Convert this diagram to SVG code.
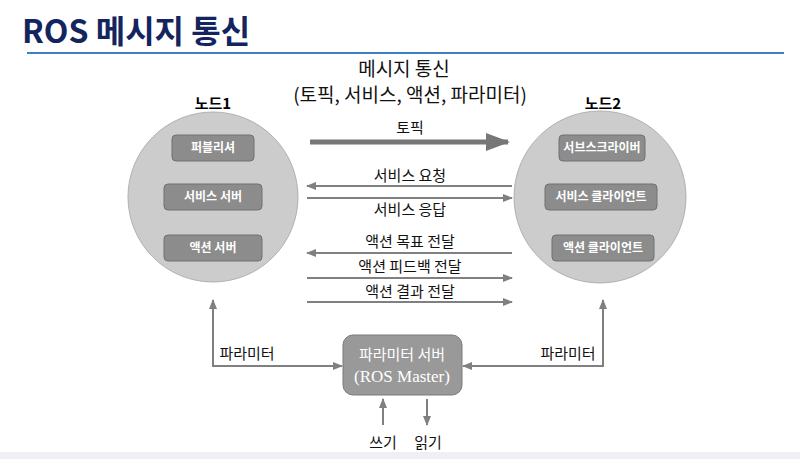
<svg xmlns="http://www.w3.org/2000/svg" width="800" height="459" viewBox="0 0 800 459">
<defs>
<style>
.k{font-family:"Noto Sans CJK KR","Noto Sans",sans-serif}
.ib{fill:#8c8c8c;stroke:#707070;stroke-width:1}
.it{font-family:"Noto Sans CJK KR",sans-serif;font-size:12px;font-weight:bold;fill:#fff;text-anchor:middle}
.ln{stroke:#808080;stroke-width:2;fill:none}
.lb{font-family:"Noto Sans CJK KR",sans-serif;font-size:15px;fill:#111;text-anchor:middle}
</style>
<marker id="a" markerWidth="10" markerHeight="8" refX="9" refY="4" orient="auto" markerUnits="userSpaceOnUse"><path d="M0,0L10,4L0,8z" fill="#808080"/></marker>
<marker id="b" markerWidth="24" markerHeight="18" refX="22" refY="9" orient="auto" markerUnits="userSpaceOnUse"><path d="M0,0L24,9L0,18z" fill="#777"/></marker>
</defs>
<rect width="800" height="459" fill="#fff"/>
<g id="title">
<text x="22" y="43" class="k" font-size="32" font-weight="bold" fill="#14245e">ROS 메시지 통신</text>
<line x1="27" y1="53" x2="784" y2="53" stroke="#3a7fc8" stroke-width="2"/>
<text x="404" y="76" class="lb" style="font-size:19px">메시지 통신</text>
<text x="410" y="102" class="lb" style="font-size:19px">(토픽, 서비스, 액션, 파라미터)</text>
</g>
<g id="node1">
<text x="213" y="109" class="k" font-size="15" font-weight="bold" text-anchor="middle">노드1</text>
<circle cx="213" cy="197" r="85" fill="#cccccc" stroke="#b0b0b0"/>
<rect class="ib" x="172" y="135" width="82" height="26" rx="4"/><text class="it" x="213" y="152">퍼블리셔</text>
<rect class="ib" x="164" y="184" width="98" height="26" rx="4"/><text class="it" x="213" y="201">서비스 서버</text>
<rect class="ib" x="164" y="235" width="98" height="26" rx="4"/><text class="it" x="213" y="252">액션 서버</text>
</g>
<g id="node2">
<text x="603" y="109" class="k" font-size="15" font-weight="bold" text-anchor="middle">노드2</text>
<circle cx="600" cy="197" r="86" fill="#cccccc" stroke="#b0b0b0"/>
<rect class="ib" x="559" y="135" width="86" height="26" rx="4"/><text class="it" x="602" y="152">서브스크라이버</text>
<rect class="ib" x="545" y="184" width="112" height="26" rx="4"/><text class="it" x="601" y="201">서비스 클라이언트</text>
<rect class="ib" x="552" y="235" width="102" height="26" rx="4"/><text class="it" x="603" y="252">액션 클라이언트</text>
</g>
<g id="master">
<rect x="343" y="335" width="119" height="60" rx="10" fill="#999" stroke="#7a7a7a"/>
<text x="402" y="360" font-family="Noto Sans CJK KR,sans-serif" font-size="15" fill="#fff" text-anchor="middle">파라미터 서버</text>
<text x="402" y="382" font-family="Liberation Serif,serif" font-size="17" fill="#fff" text-anchor="middle">(ROS Master)</text>
</g>
<g id="connectors">
<line x1="310" y1="142" x2="508" y2="142" stroke="#777" stroke-width="5" marker-end="url(#b)"/>
<text class="lb" x="410" y="133">토픽</text>
<line class="ln" x1="512" y1="186" x2="307" y2="186" marker-end="url(#a)"/>
<text class="lb" x="410" y="181">서비스 요청</text>
<line class="ln" x1="307" y1="198" x2="512" y2="198" marker-end="url(#a)"/>
<text class="lb" x="410" y="215">서비스 응답</text>
<line class="ln" x1="512" y1="253" x2="307" y2="253" marker-end="url(#a)"/>
<text class="lb" x="410" y="247">액션 목표 전달</text>
<line class="ln" x1="307" y1="278" x2="512" y2="278" marker-end="url(#a)"/>
<text class="lb" x="410" y="272">액션 피드백 전달</text>
<line class="ln" x1="307" y1="302" x2="512" y2="302" marker-end="url(#a)"/>
<text class="lb" x="410" y="297">액션 결과 전달</text>
<path class="ln" d="M342,366H213V300" marker-end="url(#a)"/>
<path class="ln" d="M213,366H342" marker-end="url(#a)"/>
<path class="ln" d="M463,366H603V300" marker-end="url(#a)"/>
<path class="ln" d="M603,366H463" marker-end="url(#a)"/>
<text class="lb" x="247" y="359">파라미터</text>
<text class="lb" x="568" y="359">파라미터</text>
<line class="ln" x1="383" y1="425" x2="383" y2="399" marker-end="url(#a)"/>
<line class="ln" x1="427" y1="399" x2="427" y2="425" marker-end="url(#a)"/>
<text class="lb" x="383" y="448">쓰기</text>
<text class="lb" x="428" y="448">읽기</text>
</g>
<rect x="0" y="452" width="800" height="7" fill="#eef0f3"/>
</svg>
